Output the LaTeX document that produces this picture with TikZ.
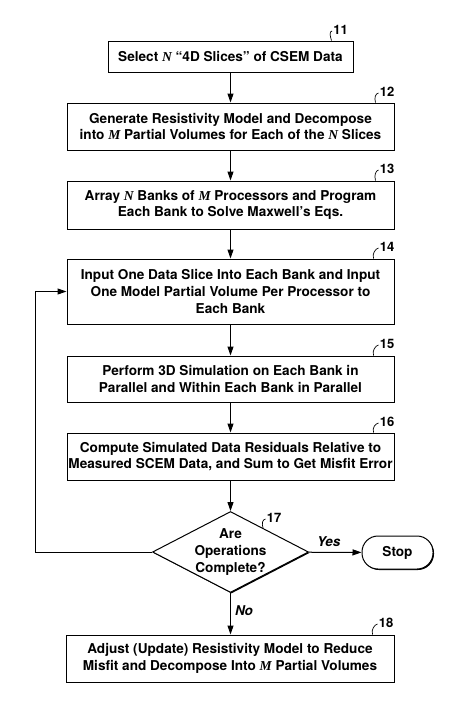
\documentclass[tikz,border=0pt]{standalone}
\usepackage{fontspec}
\setmainfont{TeX Gyre Heros}
\newfontfamily\varsfont{Liberation Serif}
\newcommand{\vN}{{\varsfont\bfseries\itshape N}}
\newcommand{\vM}{{\varsfont\bfseries\itshape M}}
\usetikzlibrary{arrows.meta,shapes.geometric,shadows}
\begin{document}
\begin{tikzpicture}[x=1pt,y=-1pt,
 font=\bfseries\fontsize{13.6}{16.7}\selectfont,
 box/.style={draw,line width=1pt,fill=white,align=center,inner sep=0pt,
   drop shadow={shadow xshift=1pt,shadow yshift=-1pt,fill=black,opacity=1}},
 arr/.style={line width=1pt,-{Triangle[length=9pt,width=6pt]}},
 num/.style={font=\bfseries\fontsize{13}{15}\selectfont,inner sep=0pt},
 hook/.style={line width=0.7pt},
 lab/.style={font=\bfseries\itshape\fontsize{13.5}{15}\selectfont,inner sep=0pt}]
\useasboundingbox[fill=white] (0,0) rectangle (474,718);

\node[box,minimum width=245pt,minimum height=31pt] (b11) at (230.5,56.5) {Select \vN{} “4D Slices” of CSEM Data};
\node[box,minimum width=327pt,minimum height=47pt] (b12) at (230.5,126.5) {Generate Resistivity Model and Decompose\\into \vM{} Partial Volumes for Each of the \vN{} Slices};
\node[box,minimum width=327pt,minimum height=48pt] (b13) at (230.5,205) {Array \vN{} Banks of \vM{} Processors and Program\\Each Bank to Solve Maxwell’s Eqs.};
\node[box,minimum width=327pt,minimum height=65pt] (b14) at (230.5,291.5) {Input One Data Slice Into Each Bank and Input\\One Model Partial Volume Per Processor to\\Each Bank};
\node[box,minimum width=327pt,minimum height=46pt] (b15) at (230.5,379) {Perform 3D Simulation on Each Bank in\\Parallel and Within Each Bank in Parallel};
\node[box,minimum width=327pt,minimum height=47pt] (b16) at (230.5,456.5) {Compute Simulated Data Residuals Relative to\\Measured SCEM Data, and Sum to Get Misfit Error};
\node[box,shape=diamond,minimum width=156pt,minimum height=81pt] (d17) at (230.5,552) {};
\node[align=center,inner sep=0pt] (t17) at (d17.center) {Are\\Operations\\Complete?};
\node[box,rounded corners=16pt,minimum width=71pt,minimum height=33pt] (stop) at (397.5,552.5) {Stop};
\node[box,minimum width=328pt,minimum height=47pt] (b18) at (230,658.5) {Adjust (Update) Resistivity Model to Reduce\\Misfit and Decompose Into \vM{} Partial Volumes};

\draw[arr] (b11) -- (b12);
\draw[arr] (b12) -- (b13);
\draw[arr] (b13) -- (b14);
\draw[arr] (b14) -- (b15);
\draw[arr] (b15) -- (b16);
\draw[arr] (b16) -- (d17);
\draw[arr] (d17) -- (stop) node[lab,pos=0.38,above=5pt] (yes) {Yes};
\draw[arr] (d17.south) -- (d17.south |- b18.north) node[lab,pos=0.42,right=4pt] (no) {No};
\coordinate (loopc) at (35,552);
\draw[arr] (d17.west) -- (loopc) |- (b14.west);

\node[num] (l11) at (340.5,30) {11};
\node[num] (l12) at (387,92) {12};
\node[num] (l13) at (387,169) {13};
\node[num] (l14) at (387,247) {14};
\node[num] (l15) at (387,344) {15};
\node[num] (l16) at (387,422) {16};
\node[num] (l17) at (274,518) {17};
\node[num] (l18) at (386,623) {18};

\coordinate (h11) at ([xshift=-22pt]b11.north east);
\coordinate (h12) at ([xshift=-19pt]b12.north east);
\coordinate (h13) at ([xshift=-19pt]b13.north east);
\coordinate (h14) at ([xshift=-21pt]b14.north east);
\coordinate (h15) at ([xshift=-21pt]b15.north east);
\coordinate (h16) at ([xshift=-21pt]b16.north east);
\coordinate (h17) at (263,528);
\coordinate (h18) at ([xshift=-22pt]b18.north east);
\foreach \h/\l in {h11/l11,h12/l12,h13/l13,h14/l14,h15/l15,h16/l16,h17/l17,h18/l18}
  \draw[hook] (\h) .. controls +(-1.5,-5) and +(-3,0.5) .. ([xshift=-1pt,yshift=-1pt]\l.west);
\end{tikzpicture}
\end{document}
